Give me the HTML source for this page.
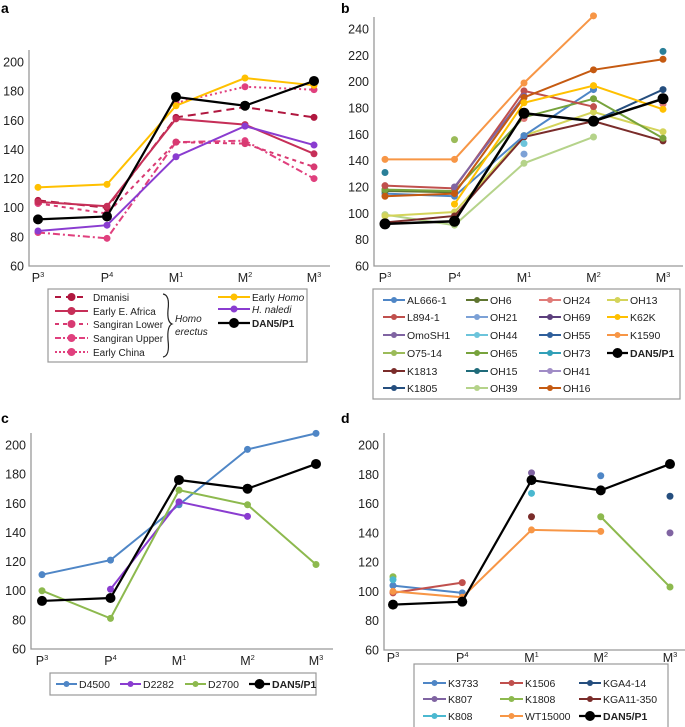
<!DOCTYPE html>
<html><head><meta charset="utf-8"><style>
html,body{margin:0;padding:0;background:#fff}
svg{display:block;font-family:"Liberation Sans",sans-serif}
</style></head><body>
<svg id="fig" width="685" height="727" viewBox="0 0 685 727" xmlns="http://www.w3.org/2000/svg"></svg>
<script>
const categories = ["P","P","M","M","M"];
const catSup = ["3","4","1","2","3"];
// Panel a
const a_ticks=[60,80,100,120,140,160,180,200];
const a_dmanisi=[105,100,162,169,162];
const a_eafrica=[104,101,161,157,137];
const a_sanLower=[103,96,145,144,128];
const a_sanUpper=[83,79,145,146,120];
const a_china=[103,null,172,183,181];
const a_earlyHomo=[114,116,170,189,184];
const a_naledi=[84,88,135,156,143];
const a_dan5=[92,94,176,170,187];
// Panel b
const b_ticks=[60,80,100,120,140,160,180,200,220,240];
const b_AL666=[115,113,159,194,null];
const b_L894=[121,119,193,181,null];
const b_OmoSH1=[null,120,189,null,null];
const b_O7514=[null,156,null,null,null];
const b_K1813=[93,98,158,170,155];
const b_K1805=[null,null,null,170,194];
const b_OH6=[117,116,null,null,null];
const b_OH21=[null,null,145,null,null];
const b_OH44=[null,null,153,null,null];
const b_OH65=[118,117,173,187,157];
const b_OH15=[null,null,null,null,null];
const b_OH39=[99,91,138,158,null];
const b_OH24=[null,null,172,null,183];
const b_OH69=[null,null,null,null,null];
const b_OH55=[null,null,null,null,null];
const b_OH73=[131,null,null,null,223];
const b_OH41=[null,null,null,null,null];
const b_OH16=[113,115,188,209,217];
const b_OH13=[98,101,159,177,162];
const b_K62K=[null,107,184,197,179];
const b_K1590=[141,141,199,250,null];
const b_dan5=[92,94,176,170,187];
// Panel c
const c_ticks=[60,80,100,120,140,160,180,200];
const c_D4500=[111,121,159,197,208];
const c_D2282=[null,101,161,151,null];
const c_D2700=[100,81,169,159,118];
const c_dan5=[93,95,176,170,187];
// Panel d
const d_ticks=[60,80,100,120,140,160,180,200];
const d_K3733=[104,99,null,179,null];
const d_K1506=[99,106,null,null,null];
const d_KGA414=[null,null,null,null,165];
const d_K807=[null,null,181,null,140];
const d_K1808=[110,null,null,151,103];
const d_KGA11=[null,null,151,null,null];
const d_K808=[108,null,167,null,null];
const d_WT15000=[100,96,142,141,null];
const d_dan5=[91,93,176,169,187];

const NS="http://www.w3.org/2000/svg";
const svg=document.getElementById('fig');
function el(tag,attrs,parent){const e=document.createElementNS(NS,tag);for(const k in attrs)e.setAttribute(k,attrs[k]);(parent||svg).appendChild(e);return e;}
function txt(x,y,s,opt,parent){const t=el('text',Object.assign({x:x,y:y,'font-size':12.5,fill:'#222'},opt||{}),parent);t.textContent=s;return t;}

function panel(p){
  const g=el('g',{});
  
  
  const yS=v=>p.y0+(v-p.vmin)/(p.vmax-p.vmin)*(p.y1-p.y0);
  const xS=i=>p.cx[0]+i*(p.cx[1]-p.cx[0])/4;
  const lt=txt(p.lx,p.ly,p.id,{'font-weight':'bold','font-size':14,fill:'#000'},g);
  
  
  const ax=el('path',{d:`M${p.ax} ${yS(p.ticks[p.ticks.length-1])-12}V${p.y0}H${p.axEnd}`,stroke:'#999','stroke-width':1.3,fill:'none'},g);
  
  
  p.ticks.forEach(v=>{const t=txt(p.ax-5,yS(v)+4.5,String(v),{'text-anchor':'end'},g);
    
    });
  categories.forEach((c,i)=>{const t=txt(xS(i),p.y0+(p.lo||16),c,{'text-anchor':'middle'},g);
    const s=el('tspan',{'font-size':7.5,dy:-5},t);s.textContent=catSup[i];
    
    });
  p.series.forEach(s=>{
    const sg=el('g',{},g);
    
    
    let seg=[];
    const flush=()=>{if(seg.length>1){const pl=el('polyline',{points:seg.join(' '),fill:'none',stroke:s.c,'stroke-width':s.w||2,'stroke-dasharray':s.dash||'none'},sg);
      
      }seg=[];};
    s.d.forEach((v,i)=>{if(v==null){flush();return;}seg.push(xS(i)+','+yS(v));});flush();
    s.d.forEach((v,i)=>{if(v==null)return;const m=el('circle',{cx:xS(i),cy:yS(v),r:s.r||3.5,fill:s.c},sg);
      
      });
  });
}
const K='#000';
panel({id:'a',lx:1,ly:13,ax:29,axEnd:330,y0:266,y1:62,vmin:60,vmax:200,cx:[38,314],ticks:a_ticks,series:[
 {name:'Sangiran Upper',d:a_sanUpper,c:'#e0407e',dash:'7 3 2 3'},
 {name:'Sangiran Lower',d:a_sanLower,c:'#d83a72',dash:'4 4'},
 {name:'Early China',d:a_china,c:'#e0407e',dash:'2 3'},
 {name:'Dmanisi',d:a_dmanisi,c:'#b0173f',dash:'8 5'},
 {name:'Early E Africa',d:a_eafrica,c:'#c62f58'},
 {name:'H naledi',d:a_naledi,c:'#8a3cd0'},
 {name:'Early Homo',d:a_earlyHomo,c:'#ffc000'},
 {name:'DAN5',d:a_dan5,c:K,w:2.2,r:5}]});
panel({id:'b',lx:341,ly:13,ax:374,axEnd:683,y0:266,y1:29,vmin:60,vmax:240,cx:[385,663],ticks:b_ticks,series:[
 {name:'OH39',d:b_OH39,c:'#b5d38a'},{name:'O75-14',d:b_O7514,c:'#9bbb59'},
 {name:'OH13',d:b_OH13,c:'#d4d45a'},{name:'K1813',d:b_K1813,c:'#7a2c2a'},
 {name:'AL666-1',d:b_AL666,c:'#4f86c6'},{name:'K1805',d:b_K1805,c:'#254e7e'},
 {name:'OH6',d:b_OH6,c:'#5f7530'},{name:'OH21',d:b_OH21,c:'#7ca1d6'},{name:'OH44',d:b_OH44,c:'#6cc4db'},
 {name:'OH65',d:b_OH65,c:'#77a33c'},{name:'OH15',d:b_OH15,c:'#1f6b7a'},{name:'OH24',d:b_OH24,c:'#e07b78'},
 {name:'OH69',d:b_OH69,c:'#5c3f7d'},{name:'OH55',d:b_OH55,c:'#2f5f9b'},{name:'OH73',d:b_OH73,c:'#2a7f98'},
 {name:'OH41',d:b_OH41,c:'#a08cc6'},{name:'L894-1',d:b_L894,c:'#c0504d'},{name:'OmoSH1',d:b_OmoSH1,c:'#8064a2'},
 {name:'OH16',d:b_OH16,c:'#c55a11'},{name:'K62K',d:b_K62K,c:'#ffc000'},{name:'K1590',d:b_K1590,c:'#f79646'},
 {name:'DAN5',d:b_dan5,c:K,w:2.5,r:5.5}]});
panel({id:'c',lx:1,ly:423,ax:31,axEnd:333,y0:649,y1:445,vmin:60,vmax:200,cx:[42,316],ticks:c_ticks,series:[
 {name:'D4500',d:c_D4500,c:'#4f86c6'},{name:'D2282',d:c_D2282,c:'#8a3cd0'},
 {name:'D2700',d:c_D2700,c:'#8db94e'},{name:'DAN5',d:c_dan5,c:K,w:2.2,r:5}]});
panel({id:'d',lx:341,ly:423,ax:384,axEnd:685,y0:650,y1:445,vmin:60,vmax:200,cx:[393,670],lo:12,ticks:d_ticks,series:[
 {name:'K3733',d:d_K3733,c:'#4f86c6'},{name:'K1506',d:d_K1506,c:'#c0504d'},
 {name:'KGA4-14',d:d_KGA414,c:'#254e7e'},{name:'K807',d:d_K807,c:'#8064a2'},
 {name:'K1808',d:d_K1808,c:'#8db94e'},{name:'KGA11-350',d:d_KGA11,c:'#7a2c2a'},
 {name:'K808',d:d_K808,c:'#4bb8d0'},{name:'WT15000',d:d_WT15000,c:'#f79646'},
 {name:'DAN5',d:d_dan5,c:K,w:2.2,r:5}]});

function legendBox(name,x,y,w,h){const r=el('rect',{x:x,y:y,width:w,height:h,fill:'#fff',stroke:'#999','stroke-width':1.2});
  
  }
function entry(x1,x2,y,c,label,opt){const g=el('g',{});
  
  
  opt=opt||{};
  el('line',{x1:x1,y1:y,x2:x2,y2:y,stroke:c,'stroke-width':opt.w||2,'stroke-dasharray':opt.dash||'none'},g);
  el('circle',{cx:(x1+x2)/2,cy:y,r:opt.r||3.5,fill:c},g);
  const t=txt(x2+(opt.gap||2),y+4,'',{'font-size':opt.fs||10.5,'font-weight':opt.bold?'bold':'normal',fill:'#222'},g);
  label.forEach(part=>{const s=el('tspan',part[1]?{'font-style':'italic'}:{},t);s.textContent=part[0];});
}
// legend a
legendBox('legend-a',48,289,259,73);
entry(55,88,297,'#b0173f',[['Dmanisi']],{dash:'6 5',r:4,gap:5,fs:10});
entry(55,88,311,'#c62f58',[['Early E. Africa']],{r:4,gap:5,fs:10});
entry(55,88,324,'#d83a72',[['Sangiran Lower']],{dash:'4 4',r:4,gap:5,fs:10});
entry(55,88,338,'#e0407e',[['Sangiran Upper']],{dash:'6 2 2 2',r:4,gap:5,fs:10});
entry(55,88,352,'#e0407e',[['Early China']],{dash:'2 2',r:4,gap:5,fs:10});
const br=el('path',{d:'M163 294 Q170 295 168 310 Q167 322 172 324 Q167 326 168 340 Q170 356 163 357',fill:'none',stroke:'#222','stroke-width':1.2});


const he1=txt(175,322,'Homo',{'font-style':'italic','font-size':10});


const he2=txt(175,335,'erectus',{'font-style':'italic','font-size':10});


entry(218,250,297,'#ffc000',[['Early '],['Homo',1]],{fs:10});
entry(218,250,309,'#8a3cd0',[['H. naledi',1]],{fs:10});
entry(218,250,323,'#000',[['DAN5/P1']],{bold:1,r:5,w:2.2,fs:10});
// legend b
legendBox('legend-b',373,289,307,110);
const bc=[[383,405],[466,488],[539,561],[607,628]];
const bry=[300,317,335,353,371,388];
const bl=[
 [['AL666-1','#4f86c6'],['L894-1','#c0504d'],['OmoSH1','#8064a2'],['O75-14','#9bbb59'],['K1813','#7a2c2a'],['K1805','#254e7e']],
 [['OH6','#5f7530'],['OH21','#7ca1d6'],['OH44','#6cc4db'],['OH65','#77a33c'],['OH15','#1f6b7a'],['OH39','#b5d38a']],
 [['OH24','#e07b78'],['OH69','#5c3f7d'],['OH55','#2f5f9b'],['OH73','#31a0b8'],['OH41','#a08cc6'],['OH16','#c55a11']],
 [['OH13','#d4d45a'],['K62K','#ffc000'],['K1590','#f79646'],['DAN5/P1','#000']]];
bl.forEach((col,ci)=>col.forEach((it,ri)=>entry(bc[ci][0],bc[ci][1],bry[ri],it[1],[[it[0]]],it[0]==='DAN5/P1'?{bold:1,r:5,w:2.2}:{r:3})));
// legend c
legendBox('legend-c',50,673,266,22);
entry(56,77,684,'#4f86c6',[['D4500']],{r:3});
entry(120,141,684,'#8a3cd0',[['D2282']],{r:3});
entry(185,206,684,'#8db94e',[['D2700']],{r:3});
entry(249,270,684,'#000',[['DAN5/P1']],{bold:1,r:5,w:2.2});
// legend d
legendBox('legend-d',414,664,254,66);
const dl=[[['K3733','#4f86c6'],['K807','#8064a2'],['K808','#4bb8d0']],
 [['K1506','#c0504d'],['K1808','#8db94e'],['WT15000','#f79646']],
 [['KGA4-14','#254e7e'],['KGA11-350','#7a2c2a'],['DAN5/P1','#000']]];
const dc=[[423,446],[500,523],[579,601]];
const dry=[683,699,716];
dl.forEach((col,ci)=>col.forEach((it,ri)=>entry(dc[ci][0],dc[ci][1],dry[ri],it[1],[[it[0]]],it[0]==='DAN5/P1'?{bold:1,r:5,w:2.2}:{r:3})));
</script>
</body></html>
